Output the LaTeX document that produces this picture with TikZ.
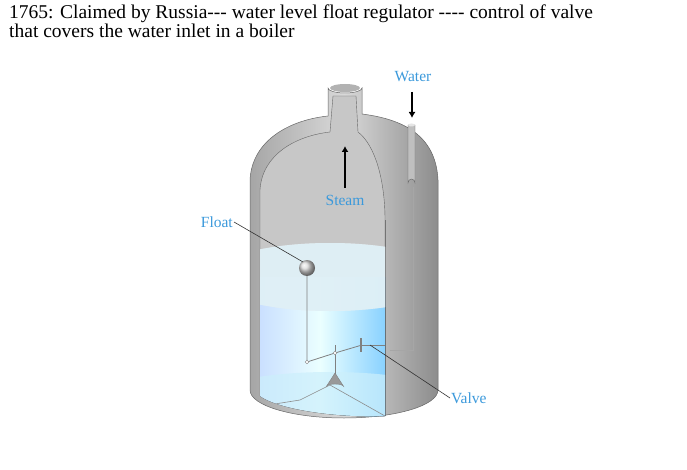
\documentclass[tikz,border=0pt]{standalone}
\usepackage{fontspec}
\setmainfont{Liberation Serif}
\usetikzlibrary{arrows.meta}
\begin{document}
\begin{tikzpicture}[x=1pt,y=-1pt,
  lbl/.style={text=cyan!70!blue!80, font=\fontsize{15.5}{17}\selectfont, inner sep=1pt},
  ptr/.style={draw=black!80, line width=0.6pt},
  bigarrow/.style={-{Latex[length=6pt,width=7pt]}, line width=2.5pt}]
\useasboundingbox (0,0) rectangle (687,470);
\node[anchor=north west, align=left, inner sep=0, font=\fontsize{19.5}{19}\selectfont] (title) at (9,5)
 {1765: Claimed by Russia{-}{-}{-} water level float regulator {-}{-}{-}{-} control of valve\\that covers the water inlet in a boiler};
% outer shell
\path[draw=black!60, left color=black!35, right color=black!45, middle color=black!15, line width=0.5pt]
 (250,390) -- (250,180) .. controls (252,140) and (290,120) .. (328,116) -- (328,88)
 arc[start angle=180,end angle=0,x radius=17,y radius=5] -- (362,114)
 .. controls (410,120) and (436,140) .. (438,180) -- (438,390)
 arc[start angle=0,end angle=180,x radius=94,y radius=28] -- cycle;
\fill[black!30] (345,88) ellipse[x radius=15,y radius=4];
% cut-away interior
\path[fill=black!22, draw=black!60, line width=0.4pt]
 (260,396) -- (260,190) .. controls (262,155) and (295,136) .. (330,132)
 -- (333,96) -- (356,96) -- (358,132) .. controls (375,145) and (385,180) .. (385,220) -- (385,416)
 .. controls (340,418) and (280,410) .. (260,396) -- cycle;
\draw[black!55, line width=0.6pt] (385,220) -- (385,416);
\begin{scope}
\clip (260,396) -- (260,190) .. controls (262,155) and (295,136) .. (330,132)
 -- (333,96) -- (356,96) -- (358,132) .. controls (375,145) and (385,180) .. (385,220) -- (385,416)
 .. controls (340,418) and (280,410) .. (260,396) -- cycle;
 \fill[left color=cyan!35!blue!25, right color=cyan!60!blue!55, middle color=cyan!8] (240,277) rectangle (400,430);
 \fill[black!8, opacity=0.9] (330,277) ellipse[x radius=120,y radius=34];
 \fill[cyan!15, opacity=0.6] (330,277) ellipse[x radius=120,y radius=34];
 \fill[cyan!20!white, opacity=0.7] (330,395) ellipse[x radius=115,y radius=23];
 \draw[black!45, line width=0.6pt] (262,406) -- (300,400) -- (330,385) -- (385,416);
\end{scope}
% water pipe
\path[fill=black!25, draw=black!60, line width=0.4pt] (408,125) -- (408,183) arc[start angle=180,end angle=360,x radius=3.5,y radius=4] -- (415,125) -- cycle;
\fill[black!10] (411.5,125) ellipse[x radius=3.5,y radius=1.5];
\draw[black!35, line width=0.5pt] (413,187) -- (413,350) -- (390,350);
% mechanism
\draw[black!50, line width=0.8pt] (307,268) -- (307,362) -- (335,353) -- (362,345);
\draw[black!50, line width=0.8pt] (335,345) -- (335,375);
\draw[black!50, line width=1.2pt] (361,338) -- (361,352);
\draw[black!50, line width=0.8pt] (362,345) -- (385,345);
\draw[black!50, fill=white] (307,362) circle (1.8) (335,353) circle (1.8);
\path[fill=black!40, draw=black!50] (335,373) -- (326,387) arc[start angle=180,end angle=360,x radius=9,y radius=3] -- cycle;
\shade[ball color=white!85!black] (307,268) circle (8);
\coordinate (floatpt) at (303,262);
\coordinate (valvept) at (370,345);
\coordinate (st1) at (345,188); \coordinate (st2) at (345,146);
\draw[bigarrow] (st1) -- (st2);
\coordinate (w1) at (412,92); \coordinate (w2) at (412,118);
\draw[bigarrow, line width=1.6pt] (w1) -- (w2);
\node[lbl] (water) at (413,77) {Water};
\node[lbl] (steam) at (345,200) {Steam};
\node[lbl, anchor=east] (float) at (234,222) {Float};
\node[lbl, anchor=west] (valve) at (450,398) {Valve};
\draw[ptr] (float.east) -- (floatpt);
\draw[ptr] (valve.west) -- (valvept);
\end{tikzpicture}
\end{document}
